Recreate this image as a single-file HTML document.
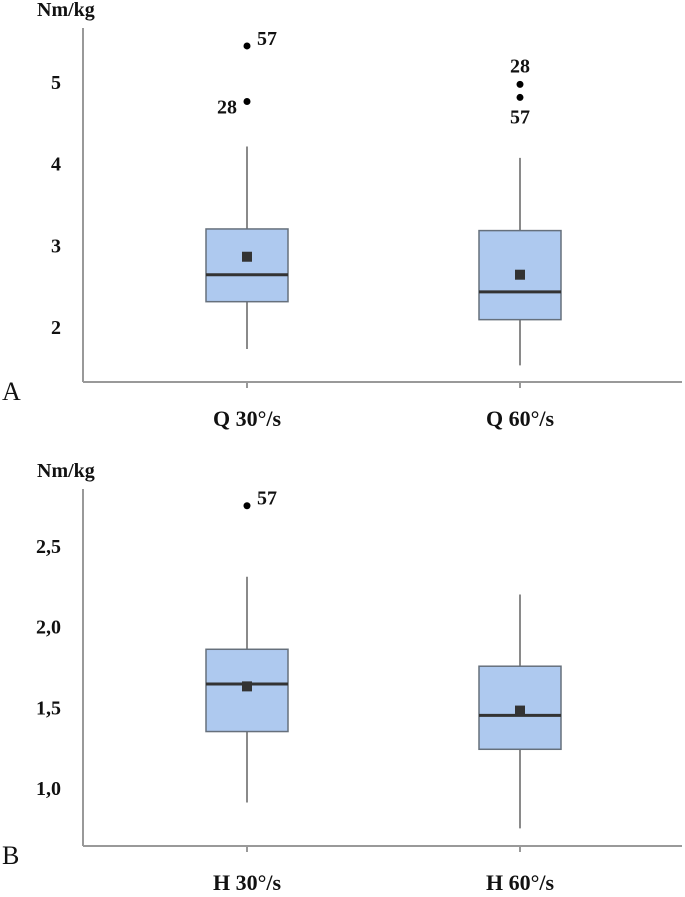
<!DOCTYPE html>
<html><head><meta charset="utf-8"><style>
body{margin:0;background:#fff}
svg text{font-family:"Liberation Serif",serif;font-weight:bold;fill:#111}
</style></head><body>
<svg id="c" width="685" height="892" xmlns="http://www.w3.org/2000/svg"></svg>
<script>
const catsA=["Q 30°/s","Q 60°/s"];
const whiskLoA=[1.73,1.53], q1A=[2.31,2.09], medA=[2.64,2.43], q3A=[3.2,3.18], whiskHiA=[4.21,4.07], meanA=[2.86,2.64];
const outA=[[5.44,4.76],[4.97,4.81]], outLabA=[["57","28"],["28","57"]];
const ticksA=[2,3,4,5], tickLabA=["2","3","4","5"];
const catsB=["H 30°/s","H 60°/s"];
const whiskLoB=[0.91,0.75], q1B=[1.35,1.24], medB=[1.645,1.45], q3B=[1.86,1.755], whiskHiB=[2.31,2.2], meanB=[1.63,1.48];
const outB=[[2.75],[]], outLabB=[["57"],[]];
const ticksB=[1,1.5,2,2.5], tickLabB=["1,0","1,5","2,0","2,5"];
const NS="http://www.w3.org/2000/svg", svg=document.getElementById('c');
function mk(t,a,p){const e=document.createElementNS(NS,t);for(const k in a)e.setAttribute(k,a[k]);(p||svg).appendChild(e);return e;}
const xs=[247,520];
function panel(name,y,axTop,axBot,letter,cats,lo,q1,md,q3,hi,mn,outs,outLabs,ticks,tickLabs){
  const g=mk('g',{});
  
  
  const ya=mk('line',{x1:83,y1:axTop,x2:83,y2:axBot,stroke:'#999','stroke-width':2},g);
  
  const xa=mk('line',{x1:83,y1:axBot,x2:682,y2:axBot,stroke:'#999','stroke-width':2},g);
  
  const ut=mk('text',{x:37,y:axTop-12,'font-size':20},g);ut.textContent='Nm/kg';
  
  const lt=mk('text',{x:2,y:axBot+18,'font-size':26},g);lt.textContent=letter;lt.style.fontWeight='normal';
  
  ticks.forEach((t,i)=>{const tl=mk('text',{x:61,y:y(t)+7,'font-size':20,'text-anchor':'end'},g);tl.textContent=tickLabs[i];
    });
  cats.forEach((c,i)=>{const x=xs[i],w=82;
    mk('line',{x1:x,y1:axBot,x2:x,y2:axBot+6,stroke:'#999','stroke-width':2},g);
    const wl=mk('line',{x1:x,y1:y(hi[i]),x2:x,y2:y(lo[i]),stroke:'#8a8a8a','stroke-width':2},g);
    
    const b=mk('rect',{x:x-w/2,y:y(q3[i]),width:w,height:y(q1[i])-y(q3[i]),fill:'#aec9ef',stroke:'#66707c','stroke-width':1.5},g);
    
    const m=mk('line',{x1:x-w/2,y1:y(md[i]),x2:x+w/2,y2:y(md[i]),stroke:'#333','stroke-width':3},g);
    
    const s=mk('rect',{x:x-5,y:y(mn[i])-5,width:10,height:10,fill:'#333'},g);
    
    outs[i].forEach((o,j)=>{const d=mk('circle',{cx:x,cy:y(o),r:3.5,fill:'#000'},g);
      
      const lab=outLabs[i][j];let lx,ly,an='start';
      if(i===0&&j===0){lx=x+10;ly=y(o)-1;} else if(i===0){lx=x-10;ly=y(o)+12;an='end';}
      else if(j===0){lx=x;ly=y(o)-12;an='middle';} else {lx=x;ly=y(o)+26;an='middle';}
      const ot=mk('text',{x:lx,y:ly,'font-size':20,'text-anchor':an},g);ot.textContent=lab;
      });
    const cl=mk('text',{x:x,y:axBot+44,'font-size':22,'text-anchor':'middle'},g);cl.textContent=c;
    
  });
}
const yA=v=>327-(v-2)*81.7, yB=v=>788-(v-1)*161.3;
panel('panel-a',yA,28,382,'A',catsA,whiskLoA,q1A,medA,q3A,whiskHiA,meanA,outA,outLabA,ticksA,tickLabA);
panel('panel-b',yB,489,846,'B',catsB,whiskLoB,q1B,medB,q3B,whiskHiB,meanB,outB,outLabB,ticksB,tickLabB);
</script>
</body></html>
